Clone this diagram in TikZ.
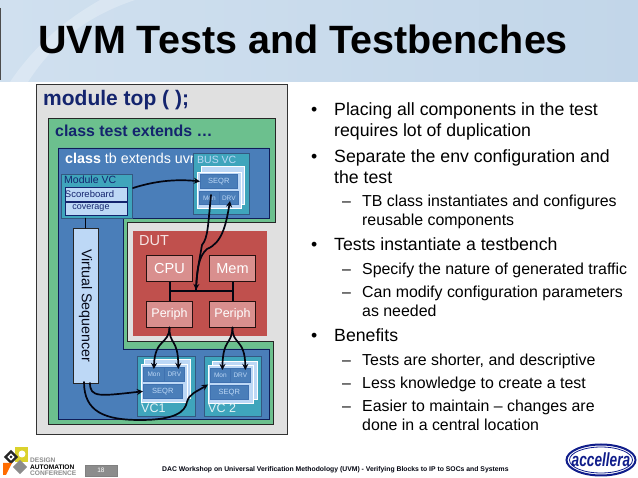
\documentclass[tikz,border=0pt]{standalone}
\usepackage{fontspec}
\setmainfont{Liberation Sans}
\usepackage{tikz}
\newcommand{\fsz}[1]{\fontsize{#1}{#1}\selectfont}
\definecolor{slategrey}{HTML}{E0E0E0}
\definecolor{testgreen}{HTML}{6CC08E}
\definecolor{tbblue}{HTML}{4A7EB9}
\definecolor{vcteal}{HTML}{3FA5BC}
\definecolor{pale}{HTML}{BDD8F6}
\definecolor{dutred}{HTML}{C0504D}
\definecolor{ipred}{HTML}{D98F8E}
\definecolor{navy}{HTML}{14246E}
\definecolor{seqblue}{HTML}{3F71B0}
\definecolor{bandl}{HTML}{D0E0EF}
\definecolor{bandm}{HTML}{DFEAF5}
\definecolor{bandr}{HTML}{C2D6E9}

\begin{document}
\begin{tikzpicture}[x=1pt, y=-1pt, line join=miter,
  lbl/.style = {anchor=base west, inner sep=0pt},
  bul/.style = {lbl, font=\fsz{17.7}},
  sub/.style = {lbl, font=\fsz{15.9}},
  vc/.style = {draw=tbblue!70!black, fill=vcteal, line width=0.5pt},
  ghost/.style = {draw=white, fill=pale, line width=1pt},
  seq/.style = {draw=seqblue, fill=tbblue, text=pale, line width=0.7pt, inner sep=0pt},
  ip/.style = {draw=black!80!dutred, fill=ipred, text=white, line width=0.8pt, inner sep=0pt, minimum width=46pt, minimum height=26pt, node distance=63pt},
  cov/.style = {draw=navy, fill=pale, text=navy, line width=0.6pt, inner sep=0pt, minimum width=62pt},
  wire/.style = {line width=1.7pt, black!85!navy, line cap=round},
  arrow/.style = {wire, -stealth}]

% slide background
\useasboundingbox (0,0) rectangle (638,478);
\fill[white] (0,0) rectangle (638,478);
\shade[left color=bandl, middle color=bandm, right color=bandr] (0,0) rectangle (638,82);
\fill[white, opacity=0.25] (28,82) .. controls (55,40) and (90,15) .. (135,0) -- (100,0) .. controls (65,20) and (35,45) .. (10,82) -- cycle;
\draw[black!70, line width=0.7pt] (0.3,8) -- (0.3,80);
\node[lbl, font=\fsz{39.5}\bfseries] (title) at (38,54) {UVM Tests and Testbenches};

% nested blocks
\draw[black!80, fill=slategrey, line width=1pt] (36.5,85) rectangle (287,435);
\draw[black!85, fill=testgreen, line width=1pt] (48,119) -- (275,119) -- (275,223) -- (127,223) -- (127,342) -- (273,342) -- (273,425) -- (48,425) -- cycle;
\draw[black!20!navy, fill=tbblue, line width=0.5pt] (58,148) -- (269,148) -- (269,218) -- (123,218) -- (123,349) -- (269,349) -- (269,419) -- (58,419) -- cycle;
\node[lbl, text=navy, font=\fsz{21}\bfseries] (top) at (43,106) {module top ( );};
\node[lbl, text=navy, font=\fsz{15.9}\bfseries] (test) at (55,137) {class test extends \dots};
\node[lbl, text=white, font=\fsz{14.3}] (tb) at (65,164) {\textbf{class} tb extends uvr};

% module VC
\node[vc, anchor=north west, minimum width=71pt, minimum height=44pt] (modvc) at (61,174) {};
\node[lbl, font=\fsz{10.5}, text=navy] (modlbl) at (64,184) {Module VC};
\node[cov, font=\fsz{9.5}, minimum height=14pt] (score) at (96,194) {\hspace{-13pt}Scoreboard};
\node[cov, font=\fsz{9}, minimum height=13pt, below of=score, node distance=14.5pt] (cover) {\hspace{-10pt}coverage};

% bus VC
\node[vc, anchor=north west, minimum width=56pt, minimum height=61pt] (busvc) at (193,153) {};
\node[lbl, text=pale, font=\fsz{10.5}] (buslbl) at (197,164) {BUS VC};
\node[ghost, anchor=north west, minimum width=43pt, minimum height=38pt] (busback) at (201,166) {};
\node[ghost, anchor=north west, minimum width=44pt, minimum height=36pt] (busfront) at (197,172) {};
\node[seq, font=\fsz{7.5}, anchor=north west, minimum width=37pt, minimum height=14pt] (busseqr) at (200,174) {SEQR};
\node[seq, font=\fsz{6.5}, anchor=north west, minimum width=20pt, minimum height=13pt] (busmon) at (199,191) {Mon};
\node[seq, font=\fsz{6.5}, minimum width=19pt, minimum height=13pt, right of=busmon, node distance=19.5pt] (busdrv) {DRV};

% DUT
\node[draw=none, fill=dutred, anchor=north west, minimum width=134pt, minimum height=105pt] (dut) at (133,231) {};
\node[lbl, text=white!85!dutred, font=\fsz{14.5}] (dutlbl) at (139,246) {DUT};
\node[ip, font=\fsz{14.5}] (cpu) at (169.5,268.5) {CPU};
\node[ip, font=\fsz{14.5}] (mem) [right of=cpu] {Mem};
\node[ip, font=\fsz{12.5}] (per1) [below of=cpu, node distance=45.5pt] {Periph};
\node[ip, font=\fsz{12.5}] (per2) [right of=per1] {Periph};
\coordinate (busl) at (cpu.south |- 0,291);
\coordinate (busr) at (mem.south |- 0,291);
\coordinate (busm) at (196,290);
\draw[line width=2pt, black!85!navy] (cpu) -- (per1);
\draw[line width=2pt, black!85!navy] (mem) -- (per2);
\draw[line width=2pt, black!85!navy] (busl) -- (busr);

% VC1
\node[vc, anchor=north west, minimum width=58pt, minimum height=60pt] (vca) at (137,356) {};
\node[ghost, anchor=north west, minimum width=46pt, minimum height=39pt] (vcaback) at (144,359) {};
\node[ghost, anchor=north west, minimum width=46pt, minimum height=38pt] (vcafront) at (141,364) {};
\node[seq, font=\fsz{6.5}, anchor=north west, minimum width=21pt, minimum height=14pt] (mona) at (143,367) {Mon};
\node[seq, font=\fsz{6.5}, minimum width=20pt, minimum height=14pt, right of=mona, node distance=20.5pt] (drva) {DRV};
\node[seq, font=\fsz{7.5}, anchor=north west, minimum width=39pt, minimum height=14pt] (seqra) at (143,384) {SEQR};
\node[lbl, text=white!85!vcteal, font=\fsz{12.5}] (vcalbl) at (141,413) {VC1};

% VC 2
\node[vc, anchor=north west, minimum width=57pt, minimum height=60pt] (vcb) at (204,356) {};
\node[ghost, anchor=north west, minimum width=45pt, minimum height=38pt] (vcbback) at (212,361) {};
\node[ghost, anchor=north west, minimum width=45pt, minimum height=38pt] (vcbfront) at (208,365) {};
\node[seq, font=\fsz{6.5}, anchor=north west, minimum width=20pt, minimum height=14pt] (monb) at (210,368) {Mon};
\node[seq, font=\fsz{6.5}, minimum width=20pt, minimum height=14pt, right of=monb, node distance=20pt] (drvb) {DRV};
\node[seq, font=\fsz{7.5}, anchor=north west, minimum width=38pt, minimum height=14pt] (seqrb) at (210,385) {SEQR};
\node[lbl, text=white!85!vcteal, font=\fsz{12.5}] (vcblbl) at (208,413) {VC 2};

% virtual sequencer
\node[draw=black!85, fill=pale, rotate=-90, font=\fsz{14.2}, text=black!80!navy, inner sep=0pt, minimum width=155pt, minimum height=25pt] (vseq) at (85.5,305.5) {Virtual Sequencer};

% connectors
\coordinate (modout) at (133,188);
\coordinate (montop) at (211,195);
\coordinate (drvtop) at (230,201);
\coordinate (vout1) at (90,383);
\coordinate (vout2) at (84,382);
\draw[wire] (vseq.west |- modvc.south) -- (vseq.west);
\draw[arrow] (modout) .. controls (155,181) and (175,179) .. (busseqr.west);
\draw[arrow] (montop) .. controls (208,225) and (208,238) .. (202,245) .. controls (199,262) and (197,272) .. (busm);
\draw[arrow] (busm) .. controls (197,268) and (199,256) .. (207,249) .. controls (222,243) and (226,225) .. (drvtop);
\draw[arrow] (per1.south) .. controls (169,345) and (155,338) .. ([yshift=-2pt]mona.north);
\draw[arrow] (per1.south) .. controls (169,345) and (178,338) .. ([xshift=4pt,yshift=-2pt]drva.north);
\draw[arrow] (per2.south) .. controls (232,345) and (223,338) .. ([xshift=2pt,yshift=-2pt]monb.north);
\draw[arrow] (per2.south) .. controls (232,345) and (245,338) .. ([xshift=5pt,yshift=-2pt]drvb.north);
\draw[arrow] (vout1) .. controls (90,398) and (100,396) .. (seqra.west);
\draw[arrow] (vout2) .. controls (84,412) and (105,420) .. (140,420) .. controls (175,420) and (185,412) .. (187,402) .. controls (189,394) and (196,392) .. (vcbfront.west);

% bullets
\node[bul] (d1) at (311,116) {•};
\node[bul] (t1) at (334,116) {Placing all components in the test};
\node[bul] (t2) at (334,137) {requires lot of duplication};
\node[bul] (d2) at (311,163) {•};
\node[bul] (t3) at (334,163) {Separate the env configuration and};
\node[bul] (t4) at (334,184) {the test};
\node[sub] (d3) at (342,207) {–};
\node[sub] (t5) at (362,207) {TB class instantiates and configures};
\node[sub] (t6) at (362,226) {reusable components};
\node[bul] (d4) at (311,251) {•};
\node[bul] (t7) at (334,251) {Tests instantiate a testbench};
\node[sub] (d5) at (342,275) {–};
\node[sub] (t8) at (362,275) {Specify the nature of generated traffic};
\node[sub] (d6) at (342,298) {–};
\node[sub] (t9) at (362,298) {Can modify configuration parameters};
\node[sub] (t10) at (362,317) {as needed};
\node[bul] (d7) at (311,342) {•};
\node[bul] (t11) at (334,342) {Benefits};
\node[sub] (d8) at (342,366) {–};
\node[sub] (t12) at (362,366) {Tests are shorter, and descriptive};
\node[sub] (d9) at (342,389) {–};
\node[sub] (t13) at (362,389) {Less knowledge to create a test};
\node[sub] (d10) at (342,412) {–};
\node[sub] (t14) at (362,412) {Easier to maintain – changes are};
\node[sub] (t15) at (362,431) {done in a central location};

% footer
\fill[yellow!60!olive!80!white] (15,447) rectangle (28,462);
\fill[white] (22,454) circle (3.5pt);
\fill[black!85, rotate around={45:(11,457)}] (6,452) rectangle (16,462);
\fill[white, rotate around={45:(11,457)}] (8.5,454.5) rectangle (13.5,459.5);
\fill[black!85] (11,457) circle (1.5pt);
\fill[orange!85!red] (3,463) -- (12,463) -- (6,475) -- (3,475) -- cycle;
\fill[black!45, rotate around={45:(20,467)}] (15,462) rectangle (25,472);
\node[lbl, text=black!45, font=\fsz{6.6}\bfseries] (dac1) at (30,463) {DESIGN};
\node[lbl, font=\fsz{6.6}\bfseries] (dac2) at (30,469.5) {AUTOMATION};
\node[lbl, text=black!45, font=\fsz{6.6}\bfseries] (dac3) at (30,476) {CONFERENCE};
\node[draw=black!50, fill=black!45, text=white, font=\fsz{6.5}, minimum width=32pt, minimum height=11pt, inner sep=0pt] (pageno) at (101,470.5) {18};
\node[lbl, text=black!85!navy, font=\fsz{6.83}\bfseries] (foot) at (162,472) {DAC Workshop on Universal Verification Methodology (UVM) - Verifying Blocks to IP to SOCs and Systems};
\draw[navy!80!blue, line width=2pt, fill=white] (601,460) ellipse (34.5 and 15.5);
\draw[navy!80!blue, line width=0.8pt] (601,460) ellipse (31.5 and 13);
\node[text=navy!80!blue, font=\fsz{19}\bfseries\itshape, xscale=0.72, inner sep=0pt] (accel) at (601,459.5) {accellera};
\end{tikzpicture}
\end{document}
